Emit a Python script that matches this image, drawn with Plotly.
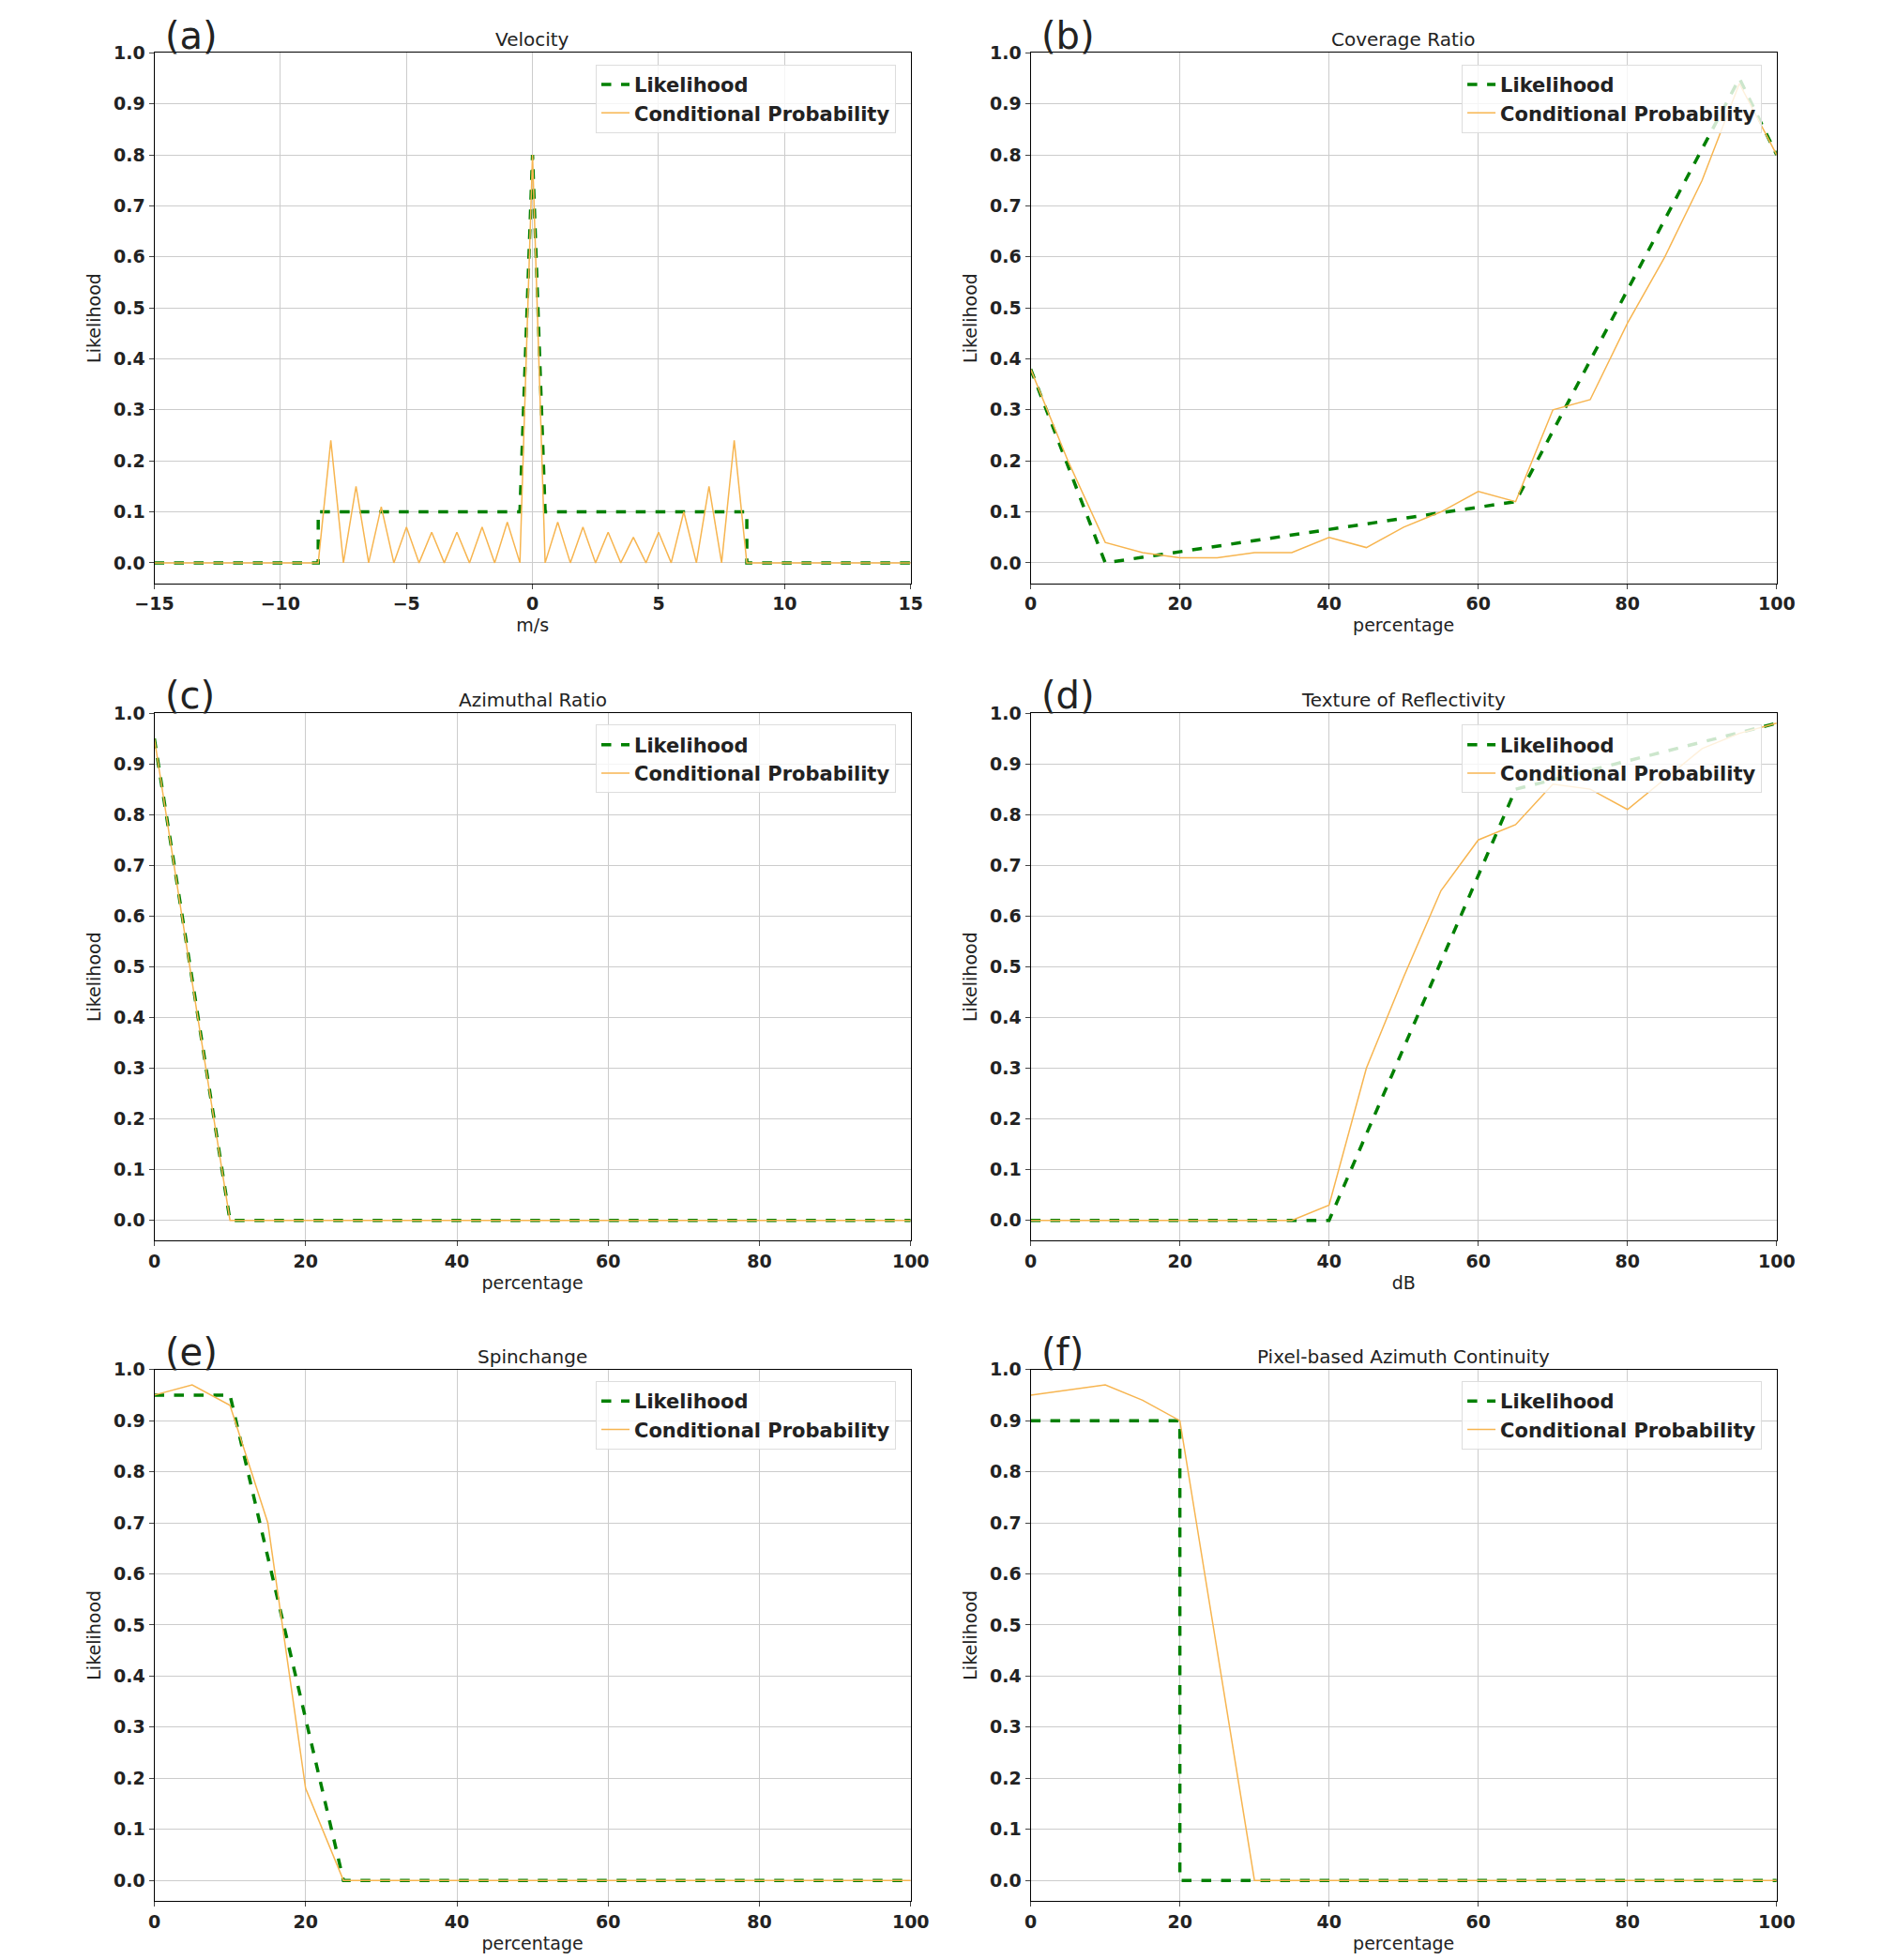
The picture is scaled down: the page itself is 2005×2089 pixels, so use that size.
import plotly.graph_objects as go

# panel (a) velocity
vel_x = [-15, -8.5, -8.5, -0.5, -0.5, 0, 0.5, 0.5, 8.5, 8.5, 15]
vel_like = [0, 0, 0.1, 0.1, 0.1, 0.8, 0.1, 0.1, 0.1, 0, 0]
vel_cx = [-15, -8.5, -8, -7.5, -7, -6.5, -6, -5.5, -5, -4.5, -4, -3.5, -3, -2.5, -2, -1.5, -1, -0.5, 0,
          0.5, 1, 1.5, 2, 2.5, 3, 3.5, 4, 4.5, 5, 5.5, 6, 6.5, 7, 7.5, 8, 8.5, 15]
vel_cond = [0, 0, 0.24, 0, 0.15, 0, 0.11, 0, 0.07, 0, 0.06, 0, 0.06, 0, 0.07, 0, 0.08, 0, 0.8,
            0, 0.08, 0, 0.07, 0, 0.06, 0, 0.05, 0, 0.06, 0, 0.1, 0, 0.15, 0, 0.24, 0, 0]

pct = [0, 5, 10, 15, 20, 25, 30, 35, 40, 45, 50, 55, 60, 65, 70, 75, 80, 85, 90, 95, 100]

# panel (b) coverage ratio
cov_lx = [0, 10, 65, 95, 100]
cov_like = [0.38, 0, 0.12, 0.95, 0.8]
cov_cond = [0.38, 0.2, 0.04, 0.02, 0.01, 0.01, 0.02, 0.02, 0.05, 0.03, 0.07, 0.1, 0.14, 0.12,
            0.3, 0.32, 0.47, 0.6, 0.75, 0.94, 0.8]

# panel (c) azimuthal ratio
az_lx = [0, 10, 100]
az_like = [0.95, 0, 0]
az_cond = [0.95, 0.47, 0] + [0] * 18

# panel (d) texture of reflectivity
tex_lx = [0, 40, 65, 100]
tex_like = [0, 0, 0.85, 0.98]
tex_cond = [0, 0, 0, 0, 0, 0, 0, 0, 0.03, 0.3, 0.48, 0.65, 0.75, 0.78, 0.86, 0.85, 0.81, 0.87,
            0.93, 0.96, 0.98]

# panel (e) spinchange
spin_lx = [0, 10, 25, 100]
spin_like = [0.95, 0.95, 0, 0]
spin_cond = [0.95, 0.97, 0.93, 0.7, 0.18, 0] + [0] * 15

# panel (f) pixel-based azimuth continuity
pix_lx = [0, 20, 20, 100]
pix_like = [0.9, 0.9, 0, 0]
pix_cond = [0.95, 0.96, 0.97, 0.94, 0.9, 0.45, 0] + [0] * 14

panels = [
    ("(a)", "Velocity", "m/s", vel_x, vel_like, vel_cx, vel_cond, [-15, 15], 5),
    ("(b)", "Coverage Ratio", "percentage", cov_lx, cov_like, pct, cov_cond, [0, 100], 20),
    ("(c)", "Azimuthal Ratio", "percentage", az_lx, az_like, pct, az_cond, [0, 100], 20),
    ("(d)", "Texture of Reflectivity", "dB", tex_lx, tex_like, pct, tex_cond, [0, 100], 20),
    ("(e)", "Spinchange", "percentage", spin_lx, spin_like, pct, spin_cond, [0, 100], 20),
    ("(f)", "Pixel-based Azimuth Continuity", "percentage", pix_lx, pix_like, pct, pix_cond, [0, 100], 20),
]

xdoms = [[0.069, 0.4795], [0.5446, 0.9495]]
ydoms = [[0.710, 0.982], [0.3728, 0.6434], [0.0342, 0.3067]]

fig = go.Figure()
layout = {}
for i, (lab, title, xlab, lx, ly, cx, cy, xr, dt) in enumerate(panels):
    n = i + 1
    sfx = "" if n == 1 else str(n)
    xd = xdoms[i % 2]
    yd = ydoms[i // 2]
    leg = "legend" + sfx
    fig.add_trace(go.Scatter(x=lx, y=ly, mode="lines", name="Likelihood",
                             line=dict(color="green", dash="dash", width=3.5),
                             xaxis="x" + sfx, yaxis="y" + sfx, legend=leg))
    fig.add_trace(go.Scatter(x=cx, y=cy, mode="lines", name="Conditional Probability",
                             line=dict(color="#f7b550", width=1.5),
                             xaxis="x" + sfx, yaxis="y" + sfx, legend=leg))
    layout["xaxis" + sfx] = dict(domain=xd, anchor="y" + sfx, range=xr, dtick=dt,
                                 title=dict(text=xlab, font=dict(size=19), standoff=6),
                                 showgrid=True, gridcolor="#cccccc", zeroline=False,
                                 showline=True, linecolor="black", mirror=True, ticks="outside",
                                 tickfont=dict(size=19, family="DejaVu Sans", weight="bold"))
    layout["yaxis" + sfx] = dict(domain=yd, anchor="x" + sfx, range=[-0.04, 1.0], dtick=0.1,
                                 tickformat=".1f",
                                 title=dict(text="Likelihood", font=dict(size=19), standoff=8),
                                 showgrid=True, gridcolor="#cccccc", zeroline=False,
                                 showline=True, linecolor="black", mirror=True, ticks="outside",
                                 tickfont=dict(size=19, family="DejaVu Sans", weight="bold"))
    layout[leg] = dict(x=xd[1] - 0.008, y=yd[1] - 0.006, xanchor="right", yanchor="top",
                       bgcolor="rgba(255,255,255,0.8)", bordercolor="#dddddd", borderwidth=1,
                       font=dict(size=21, family="DejaVu Sans", weight="bold"))
    fig.add_annotation(text=title, x=(xd[0] + xd[1]) / 2, y=yd[1], xref="paper", yref="paper",
                       xanchor="center", yanchor="bottom", showarrow=False, font=dict(size=20))
    fig.add_annotation(text=lab, x=xd[0] + 0.005, y=yd[1] - 0.003, xref="paper", yref="paper",
                       xanchor="left", yanchor="bottom", showarrow=False, font=dict(size=40))

fig.update_layout(**layout)
fig.update_layout(width=2005, height=2089, margin=dict(l=0, r=0, t=0, b=0),
                  plot_bgcolor="white", paper_bgcolor="white",
                  font=dict(family="DejaVu Sans", color="#222222"))
fig.write_html("out.html")
